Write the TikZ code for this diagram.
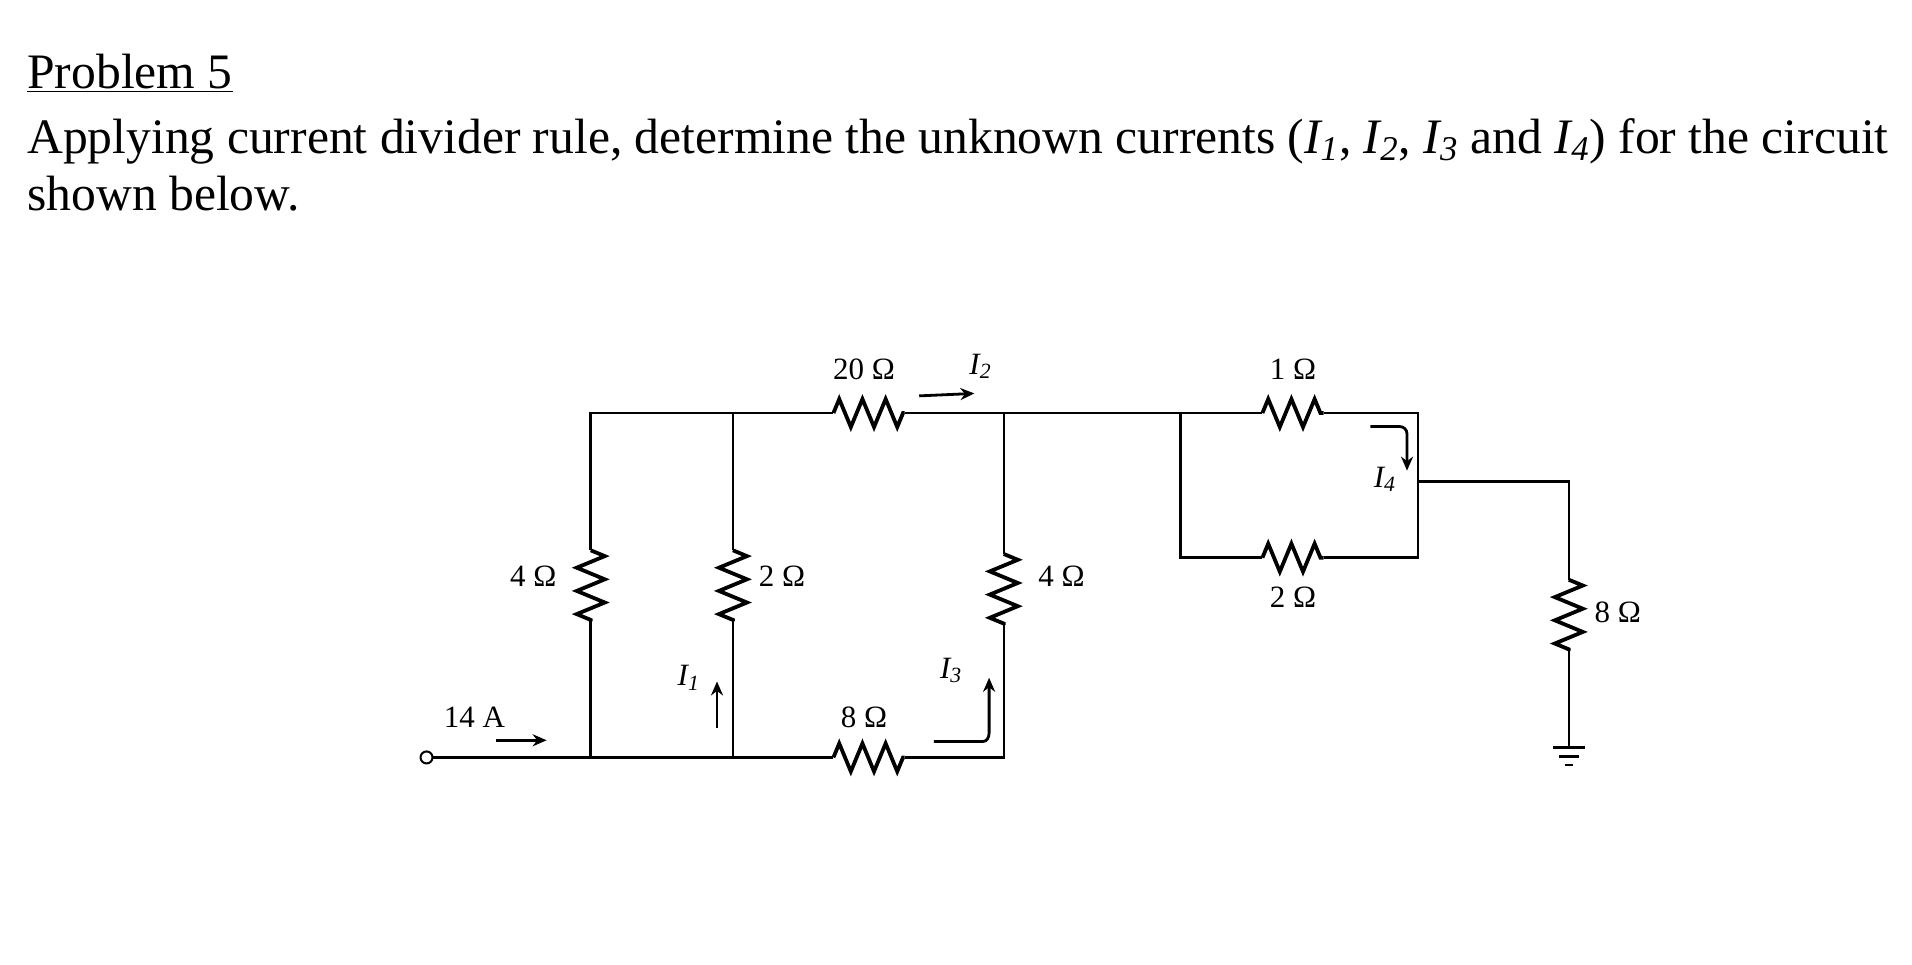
\documentclass[tikz,border=0pt]{standalone}
\usepackage{fontspec}
\setmainfont{Liberation Serif}
\usetikzlibrary{decorations.pathmorphing,arrows.meta}
\newcommand{\Icur}[1]{\textit{I\textsubscript{#1}}}
\begin{document}
\begin{tikzpicture}[x=0.6128pt,y=-0.6128pt,
  w/.style={line width=1.3pt},
  res/.style={line width=1.9pt,decorate,decoration={zigzag,segment length=11.6pt,amplitude=7pt}},
  lab/.style={font=\fontsize{15.5}{17}\selectfont,inner sep=1pt},
  cur/.style={line width=1.4pt,-{Stealth[length=7pt,width=6pt]}},
  title/.style={font=\fontsize{24.8}{28}\selectfont,anchor=base west,inner sep=0pt}]
\useasboundingbox (0,0) rectangle (1560,786.6);
\node[title] (t1) at (22,72) {\underline{Problem 5}};
\node[title] (t2) at (22,125) {Applying current divider rule, determine the unknown currents (\Icur{1}, \Icur{2}, \Icur{3} and \Icur{4}) for the circuit};
\node[title] (t3) at (22,172) {shown below.};
% coordinates
\coordinate (A) at (482,337); \coordinate (B) at (598,337); \coordinate (C) at (819,337);
\coordinate (D) at (963,337); \coordinate (E) at (1157,337);
\coordinate (Ab) at (482,618); \coordinate (Bb) at (598,618); \coordinate (Cb) at (819,618);
\coordinate (term) at (348,618);
\coordinate (R20a) at (680,337); \coordinate (R20b) at (738,337);
\coordinate (R8a) at (680,618); \coordinate (R8b) at (738,618);
\coordinate (R4La) at (482,449); \coordinate (R4Lb) at (482,507);
\coordinate (R2a) at (598,449); \coordinate (R2b) at (598,507);
\coordinate (R4Ra) at (819,452); \coordinate (R4Rb) at (819,510);
\coordinate (R1a) at (1030,337); \coordinate (R1b) at (1080,337);
\coordinate (D2) at (963,455); \coordinate (E2) at (1157,455);
\coordinate (R2pa) at (1030,455); \coordinate (R2pb) at (1080,455);
\coordinate (E3) at (1157,393); \coordinate (F) at (1280,393);
\coordinate (R8ra) at (1280,473); \coordinate (R8rb) at (1280,531);
\coordinate (G) at (1280,610);
% wires
\draw[w] (Ab) -- (R4Lb); \draw[w] (R4La) -- (A) -- (R20a); \draw[w] (R20b) -- (D) -- (R1a);
\draw[w] (R1b) -- (E) -- (E2) -- (R2pb); \draw[w] (R2pa) -- (D2) -- (D);
\draw[w] (B) -- (R2a); \draw[w] (R2b) -- (Bb);
\draw[w] (C) -- (R4Ra); \draw[w] (R4Rb) -- (Cb) -- (R8b); \draw[w] (R8a) -- (term);
\draw[w] (E3) -- (F) -- (R8ra); \draw[w] (R8rb) -- (G);
\draw[w] (1267,610) -- (1293,610); \draw[w] (1272,617) -- (1288,617); \draw[w] (1277,624) -- (1283,624);
\node[draw,circle,line width=1pt,minimum size=6pt,inner sep=0pt,fill=white] (tc) at (term) {};
% resistors
\draw[res] (R20a) -- (R20b); \draw[res] (R8a) -- (R8b);
\draw[res] (R1a) -- (R1b); \draw[res] (R2pa) -- (R2pb);
\draw[res] (R4La) -- (R4Lb); \draw[res] (R2a) -- (R2b);
\draw[res] (R4Ra) -- (R4Rb); \draw[res] (R8ra) -- (R8rb);
% labels
\node[lab] (l1) at (435,470) {4 Ω};
\node[lab] (l2) at (638,470) {2 Ω};
\node[lab] (l3) at (866,470) {4 Ω};
\node[lab] (l4) at (705,301) {20 Ω};
\node[lab] (l5) at (705,585) {8 Ω};
\node[lab] (l6) at (1055,301) {1 Ω};
\node[lab] (l7) at (1055,487) {2 Ω};
\node[lab] (l8) at (1320,500) {8 Ω};
\node[lab] (l9) at (387,585) {14 A};
\node[lab] (i1) at (562,553) {\Icur{1}};
\node[lab] (i2) at (800,299) {\Icur{2}};
\node[lab] (i3) at (776,547) {\Icur{3}};
\node[lab] (i4) at (1130,391) {\Icur{4}};
% current arrows
\coordinate (a1s) at (405,604); \coordinate (a1e) at (446,604);
\draw[cur] (a1s) -- (a1e);
\coordinate (b1s) at (585,594); \coordinate (b1e) at (585,556);
\draw[cur] (b1s) -- (b1e);
\coordinate (c1s) at (750,323); \coordinate (c1e) at (795,321);
\draw[cur] (c1s) -- (c1e);
\coordinate (d1s) at (762,605); \coordinate (d1e) at (807,553);
\draw[cur] (d1s) -- (802,605) to[out=0,in=-90] (807,598) -- (d1e);
\coordinate (e1s) at (1118,348); \coordinate (e1e) at (1148,384);
\draw[cur] (e1s) -- (1142,348) to[out=0,in=90] (1148,354) -- (e1e);
\end{tikzpicture}
\end{document}
